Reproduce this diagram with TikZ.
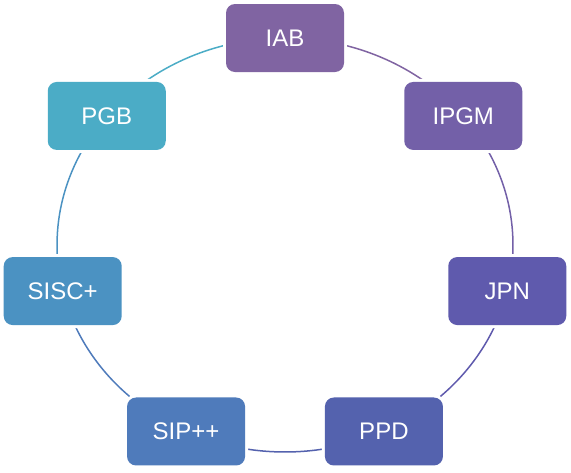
\documentclass[tikz,border=0pt]{standalone}
\usepackage{fontspec}
\setmainfont{Liberation Sans}
\usetikzlibrary{calc,backgrounds}
\definecolor{cyiab}{RGB}{128,100,162}
\definecolor{cyipgm}{RGB}{115,96,168}
\definecolor{cyjpn}{RGB}{95,90,173}
\definecolor{cyppd}{RGB}{84,98,174}
\definecolor{cysip}{RGB}{79,123,187}
\definecolor{cysisc}{RGB}{75,146,194}
\definecolor{cypgb}{RGB}{75,172,198}
\tikzset{
  cyclebox/.style={rounded corners=9pt, minimum width=118pt, minimum height=68pt,
    text=white, font=\fontsize{24}{28}\selectfont,
    preaction={draw=white, line width=6pt}},
  cyclearc/.style={line width=1.5pt},
}
\begin{document}
\begin{tikzpicture}[x=1pt,y=1pt]
  \useasboundingbox (0,0) rectangle (571,-472);
  \coordinate (hub) at (285,-245);

  % boxes round the ring
  \foreach \nm/\txt [count=\i from 0] in {iab/IAB, ipgm/IPGM, jpn/JPN, ppd/PPD, sip/SIP++, sisc/SISC+, pgb/PGB}
    \node[cyclebox, fill=cy\nm] (\nm) at ($(hub)+({90-\i*360/7}:228pt and 207pt)$) {\txt};

  % ring arcs, behind the boxes
  \begin{scope}[on background layer]
    \foreach \nm [count=\i from 0] in {iab, ipgm, jpn, ppd, sip, sisc, pgb}
      \draw[cyclearc, cy\nm] (\nm.center) arc[start angle={90-\i*360/7}, end angle={90-(\i+1)*360/7}, x radius=228pt, y radius=207pt];
  \end{scope}
\end{tikzpicture}
\end{document}
